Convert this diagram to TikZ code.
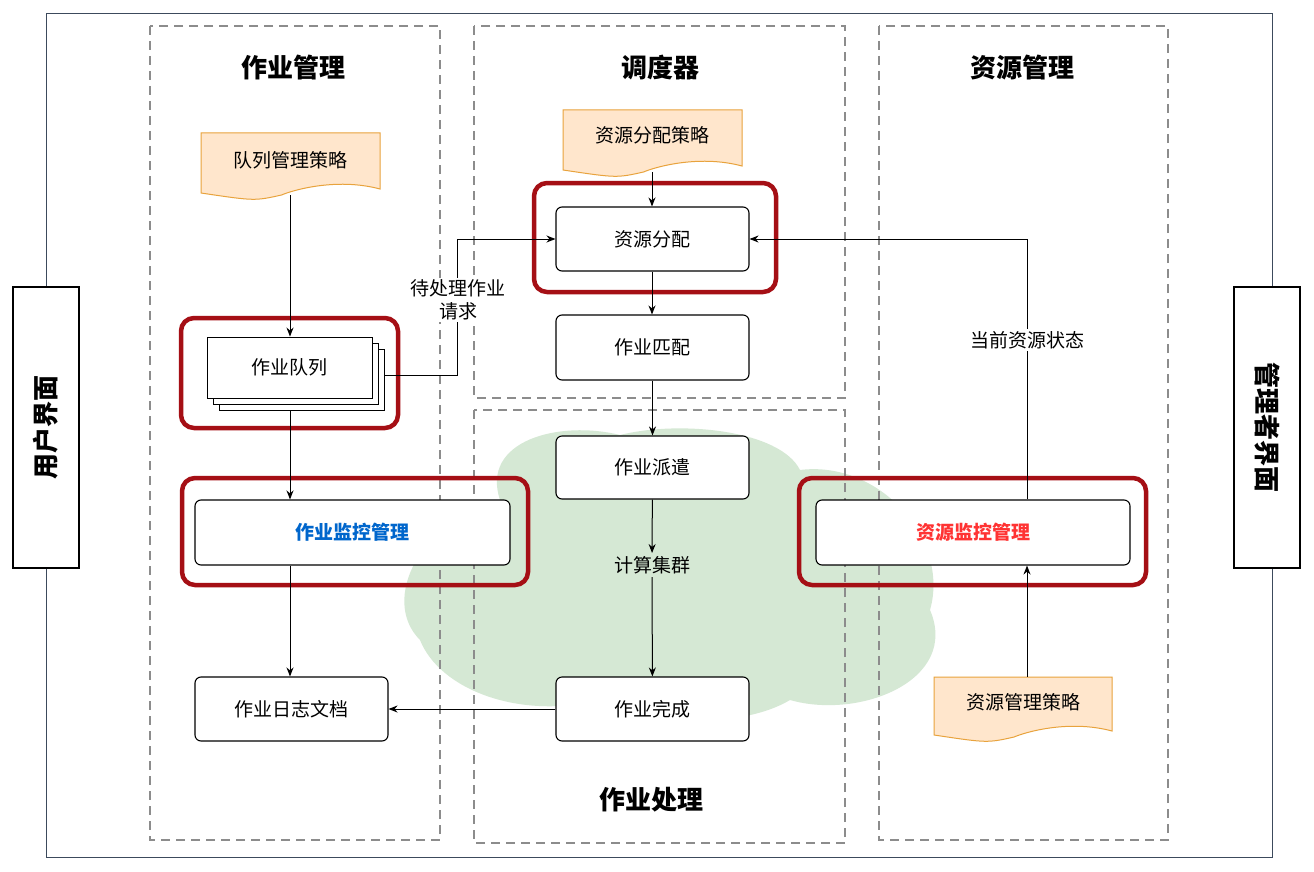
\documentclass[tikz,border=0pt]{standalone}
\usepackage{fontspec}
\setmainfont{Noto Sans CJK SC}
\usetikzlibrary{arrows.meta,calc}
\definecolor{hl}{HTML}{A50F15}
\definecolor{docf}{HTML}{FFE6CC}
\definecolor{docd}{HTML}{E8A33D}
\definecolor{cloud}{HTML}{D5E8D4}
\definecolor{frame}{HTML}{3C4A5C}
\tikzset{
 x=1pt,y=-1pt,
 box/.style={draw=black,line width=1.1pt,rounded corners=6pt,fill=white,font=\fontsize{19}{21}\selectfont,inner sep=0},
 hlbox/.style={draw=hl,line width=4.5pt,rounded corners=13pt},
 region/.style={draw=black!45,line width=2.6pt,dash pattern=on 9pt off 6pt},
 title/.style={font=\bfseries\fontsize{26}{28}\selectfont},
 arr/.style={-{Stealth[length=9pt,width=7pt]},line width=1pt},
 lab/.style={fill=white,font=\fontsize{19}{23}\selectfont,align=center,inner sep=2pt},
 side/.style={draw=black,line width=1.8pt,fill=white,inner sep=0},
}
\newcommand{\docshape}[5]{%
 \path[#5] (#1,#2) -- (#3,#2) -- (#3,#4-6) .. controls ($(#1,#4)!0.75!(#3,#4)+(0,-18)$) and ($(#1,#4)!0.5!(#3,#4)+(0,-4)$) .. ($(#1,#4)!0.45!(#3,#4)+(0,0)$) .. controls ($(#1,#4)!0.3!(#3,#4)+(0,6)$) .. (#1,#4-2) -- cycle;}
\begin{document}
\begin{tikzpicture}
\useasboundingbox (0,0) rectangle (1314,872);
\fill[white] (0,0) rectangle (1314,872);
\draw[draw=frame,line width=1pt] (46,14) rectangle (1272,857);
% cloud
\fill[cloud] (420,640) .. controls (380,600) and (420,520) .. (500,500)
 .. controls (480,440) and (560,420) .. (620,435)
 .. controls (680,420) and (780,430) .. (800,470)
 .. controls (880,460) and (950,540) .. (930,610)
 .. controls (960,680) and (860,720) .. (790,700)
 .. controls (740,730) and (640,725) .. (600,700)
 .. controls (520,720) and (440,690) .. (420,640) -- cycle;
% regions
\draw[region] (150,26) rectangle (440,840);
\draw[region] (474,26) rectangle (845,398);
\draw[region] (474,410) rectangle (845,843);
\draw[region] (879,26) rectangle (1168,840);
\node[title] (t1) at (293,68) {作业管理};
\node[title] (t2) at (660,68) {调度器};
\node[title] (t3) at (1022,68) {资源管理};
\node[title] (t4) at (651,800) {作业处理};
% side boxes
\node[side,minimum width=66pt,minimum height=281pt] (user) at (46,427.5) {};
\node[rotate=90,font=\bfseries\fontsize{26}{28}\selectfont] at (user) {用户界面};
\node[side,minimum width=66pt,minimum height=281pt] (admin) at (1267,427.5) {};
\node[rotate=-90,font=\bfseries\fontsize{26}{28}\selectfont] at (admin) {管理者界面};
% documents
\docshape{201}{133}{380}{195}{fill=docf,draw=docd,line width=1pt}
\node[font=\fontsize{19}{21}\selectfont] (qp) at (290,160) {队列管理策略};
\docshape{563}{110}{742}{172}{fill=docf,draw=docd,line width=1pt}
\node[font=\fontsize{19}{21}\selectfont] (rp) at (652,135) {资源分配策略};
\docshape{934}{677}{1112}{737}{fill=docf,draw=docd,line width=1pt}
\node[font=\fontsize{19}{21}\selectfont] (mp) at (1023,702) {资源管理策略};
\coordinate (qpb) at (290,195);
\coordinate (rpb) at (652,172);
\coordinate (mpt) at (1027,677);
% highlights
\draw[hlbox] (534,183) rectangle (776,292);
\draw[hlbox] (181,318) rectangle (398,428);
\draw[hlbox] (182,478) rectangle (528,585);
\draw[hlbox] (799,478) rectangle (1146,585);
% nodes
\node[box,minimum width=193pt,minimum height=64pt] (alloc) at (652.5,239) {资源分配};
\node[box,minimum width=193pt,minimum height=65pt] (match) at (652.5,347.5) {作业匹配};
\node[box,minimum width=193pt,minimum height=63pt] (disp) at (652.5,467.5) {作业派遣};
\node[font=\fontsize{19}{21}\selectfont,inner sep=3pt] (clus) at (652,565) {计算集群};
\node[box,minimum width=193pt,minimum height=64pt] (done) at (652.5,709) {作业完成};
\node[box,minimum width=193pt,minimum height=64pt] (log) at (291.5,709) {作业日志文档};
\node[box,minimum width=315pt,minimum height=65pt,text={rgb,255:red,0;green,102;blue,204},font=\bfseries\fontsize{19}{21}\selectfont] (jm) at (352.5,532.5) {作业监控管理};
\node[box,minimum width=314pt,minimum height=65pt,text={rgb,255:red,255;green,51;blue,51},font=\bfseries\fontsize{19}{21}\selectfont] (rm) at (973,532.5) {资源监控管理};
% queue multidoc
\foreach \d in {12,6}{\draw[fill=white,line width=0.9pt] (207+\d,337+\d) rectangle (372+\d,398+\d);}
\node[draw,fill=white,line width=0.9pt,minimum width=165pt,minimum height=61pt,font=\fontsize{19}{21}\selectfont] (queue) at (289.5,367.5) {作业队列};
% arrows
\draw[arr] (qpb) -- (queue.north -| qpb);
\draw[arr] (queue.south -| qpb) ++(0,12) -- (jm.north -| qpb);
\draw[arr] (jm.south -| qpb) -- (log.north -| qpb);
\draw[arr] (done) -- (log);
\draw[arr] (rpb) -- (alloc.north -| rpb);
\draw[arr] (alloc.south -| rpb) -- (match.north -| rpb);
\draw[arr] (match) -- (disp);
\draw[arr] (disp) -- (clus);
\draw[arr] (clus) -- (done);
\draw[arr] (384,375) -- (457,375) -- (457,239) -- (alloc.west);
\node[lab] (l1) at (458,300) {待处理作业\\请求};
\draw[arr] (rm.north -| mpt) -- (1027,239) -- (alloc.east);
\node[lab] (l2) at (1027,340) {当前资源状态};
\draw[arr] (mpt) -- (rm.south -| mpt);
\end{tikzpicture}
\end{document}
